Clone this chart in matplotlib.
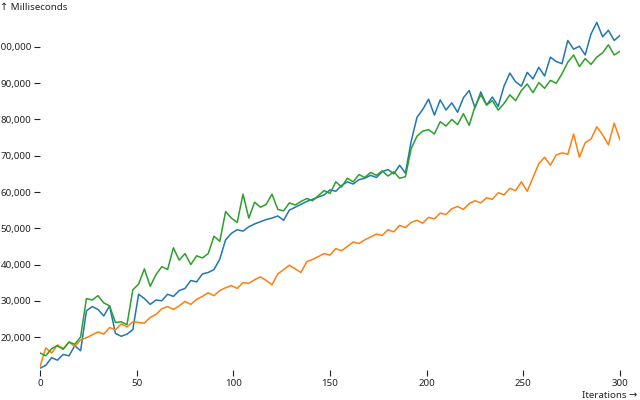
import matplotlib
matplotlib.use('Agg')
import matplotlib.pyplot as plt
from matplotlib.ticker import FuncFormatter

plt.rcParams['font.family'] = ['Noto Sans', 'DejaVu Sans']

# iterations sampled every 3 steps
iterations = list(range(0, 301, 3))

# milliseconds (in thousands)
blue_k = [11.4, 12.2, 14.3, 13.6, 15.2, 14.8, 17.6, 16.2, 27.2, 28.4,
          27.6, 25.8, 28.6, 21.0, 20.2, 20.8, 22.0, 31.8, 30.6, 29.0,
          30.2, 30.0, 31.8, 31.2, 32.8, 33.4, 35.6, 35.2, 37.4, 37.8,
          38.6, 41.5, 46.8, 48.6, 49.6, 49.2, 50.4, 51.2, 51.8, 52.4,
          52.8, 53.4, 52.2, 55.0, 55.8, 56.6, 57.4, 58.0, 58.6, 59.2,
          60.6, 60.2, 61.8, 62.8, 62.2, 63.4, 63.8, 64.6, 64.0, 65.6,
          66.2, 65.0, 67.4, 65.2, 74.0, 80.6, 82.8, 85.6, 81.2, 85.4,
          82.6, 84.6, 82.0, 86.0, 88.0, 83.2, 87.6, 84.0, 86.2, 83.6,
          89.2, 92.8, 90.4, 89.2, 93.0, 91.2, 94.4, 92.0, 97.2, 96.0,
          95.4, 101.8, 99.4, 100.2, 97.8, 103.6, 106.8, 102.8, 104.6, 101.8,
          103.2]

orange_k = [11.8, 17.0, 15.6, 17.8, 16.8, 18.6, 17.4, 19.2, 19.8, 20.6,
            21.4, 20.8, 22.6, 22.0, 23.6, 22.8, 24.2, 24.0, 23.8, 25.4,
            26.2, 27.8, 28.4, 27.6, 28.6, 29.8, 29.0, 30.4, 31.2, 32.2,
            31.4, 32.8, 33.6, 34.2, 33.4, 35.0, 34.8, 35.8, 36.6, 35.6,
            34.4, 37.4, 38.6, 39.8, 38.8, 37.8, 40.8, 41.4, 42.2, 43.0,
            42.6, 44.4, 43.8, 45.0, 46.2, 45.8, 46.8, 47.6, 48.4, 48.0,
            49.6, 49.0, 50.8, 50.2, 51.6, 52.2, 51.4, 53.0, 52.6, 54.2,
            53.8, 55.4, 56.0, 55.2, 56.8, 57.6, 57.0, 58.4, 58.0, 59.8,
            59.2, 61.0, 60.4, 62.8, 60.2, 64.0, 67.8, 69.6, 67.4, 70.2,
            70.8, 70.4, 76.0, 69.6, 73.6, 74.6, 78.0, 75.8, 73.0, 79.0,
            74.4]

green_k = [15.6, 14.8, 16.8, 17.6, 16.6, 18.6, 18.0, 20.0, 30.6, 30.2,
           31.4, 29.4, 28.6, 24.0, 24.2, 23.4, 33.0, 34.6, 38.8, 34.0,
           37.2, 39.4, 38.6, 44.6, 41.2, 43.0, 40.0, 42.4, 41.8, 43.0,
           47.8, 46.4, 54.6, 52.8, 51.6, 59.4, 52.8, 57.2, 55.8, 56.6,
           59.4, 55.2, 54.8, 57.0, 56.4, 57.4, 58.2, 57.6, 59.0, 60.4,
           59.6, 62.8, 61.4, 63.8, 62.8, 64.8, 64.0, 65.4, 64.6, 65.8,
           64.4, 65.6, 63.8, 64.2, 72.0, 75.4, 76.8, 77.2, 76.0, 79.4,
           78.2, 80.0, 78.6, 81.6, 78.4, 83.6, 86.8, 84.0, 85.2, 82.6,
           84.4, 86.8, 85.2, 88.0, 89.8, 87.4, 90.2, 88.6, 90.8, 90.0,
           92.6, 95.8, 97.8, 94.6, 96.8, 95.2, 97.2, 98.4, 100.6, 97.8,
           98.8]

series = [(blue_k, '#1f77b4'), (orange_k, '#ff7f0e'), (green_k, '#2ca02c')]

fig = plt.figure(figsize=(6.4, 4), dpi=100)
ax = fig.add_axes([40 / 640, 1 - 370 / 400, 580 / 640, 350 / 400])

for vals, color in series:
    ax.plot(iterations, [v * 1000 for v in vals], color=color, linewidth=1.1,
            solid_joinstyle='round')

ax.set_xlim(0, 300)
ax.set_ylim(10897, 107448)
ax.set_xticks([0, 50, 100, 150, 200, 250, 300])
ax.set_yticks(range(20000, 100001, 10000))
ax.yaxis.set_major_formatter(FuncFormatter(lambda v, p: f'{int(v):,}'))

for s in ax.spines.values():
    s.set_visible(False)
ax.tick_params(axis='both', direction='out', length=4.3, width=0.8,
               labelsize=7, colors='#222222', pad=2)

fig.text(0, 1 - 7 / 400, '\u2191 Milliseconds', fontsize=7, ha='left',
         va='center', color='#222222')
fig.text(637 / 640, 1 - 395 / 400, 'Iterations \u2192', fontsize=7, ha='right',
         va='center', color='#222222')

fig.savefig('out.png', dpi=100)
